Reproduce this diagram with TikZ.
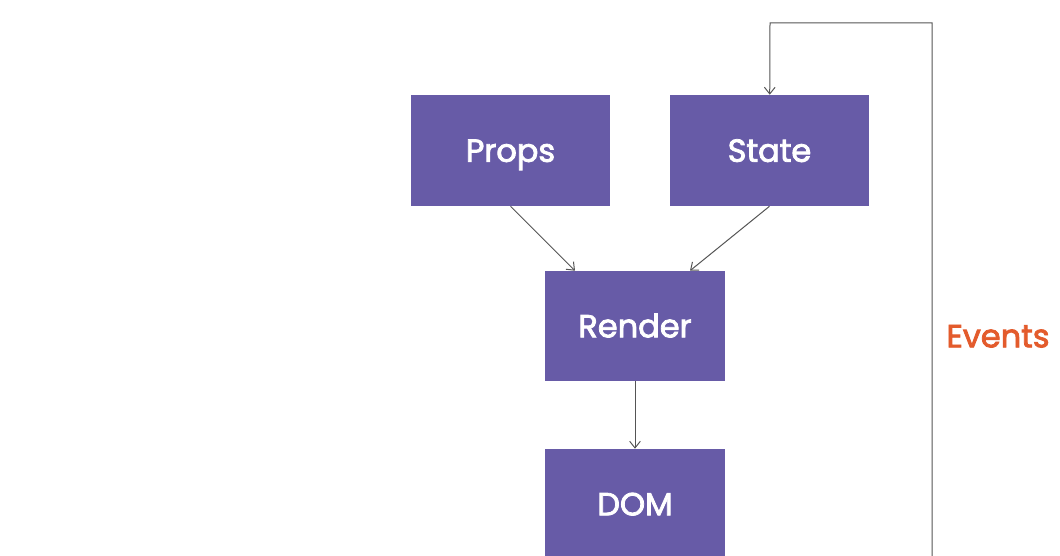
\documentclass[tikz,border=0pt]{standalone}
\usepackage{fontspec}
\setmainfont{Poppins}
\newfontfamily\boxfont[FakeBold=2.5]{Poppins}
\usetikzlibrary{arrows.meta}

\definecolor{boxpurple}{HTML}{675BA7}
\definecolor{eventorange}{HTML}{E35B2C}
\definecolor{linegray}{HTML}{555555}

\begin{document}
\begin{tikzpicture}[x=0.75pt,y=-0.75pt,
  label text/.style={text height=17pt, text depth=0pt, font=\boxfont\fontsize{24}{28}\selectfont},
  block/.style={label text, fill=boxpurple, text=white, inner sep=0pt},
  flow/.style={draw=linegray, line width=0.75pt, -{Straight Barb[length=5pt,width=8pt]}}]
  \useasboundingbox (0,0) rectangle (1060,556);
  \clip (0,0) rectangle (1060,556);
  \node[block, minimum width=149.25pt, minimum height=83.25pt] (props) at (510.5,150.5) {Props};
  \node[block, minimum width=149.25pt, minimum height=83.25pt] (state) at (769.5,150.5) {State};
  \node[block, minimum width=135pt, minimum height=82.5pt] (render) at (635,326) {Render};
  \node[block, minimum width=135pt, minimum height=82.5pt] (dom) at (635,504) {DOM};
  \node[label text, text=eventorange] (events) at (998,336) {Events};
  \coordinate (loopstart) at (932,560);
  \draw[flow] (props.south) -- (render.north -| 575,0);
  \draw[flow] (state.south) -- (render.north -| 690,0);
  \draw[flow] (render) -- (dom);
  \draw[flow] (loopstart) |- (770,23) -- (state);
\end{tikzpicture}
\end{document}
